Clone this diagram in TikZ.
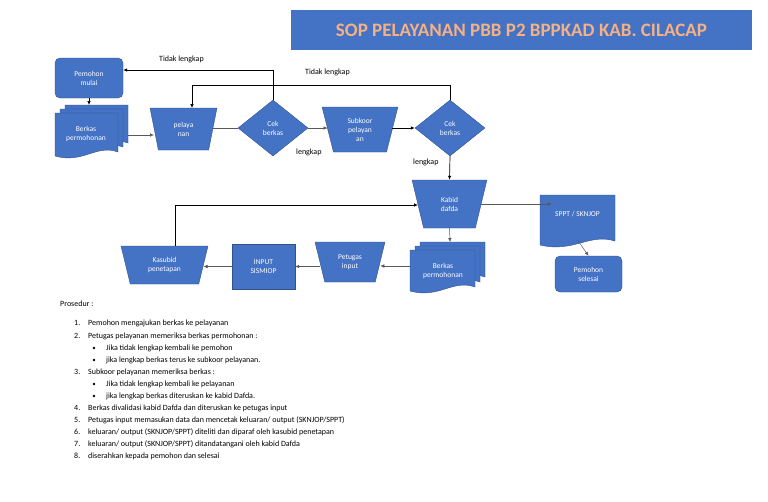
\documentclass[tikz,border=0pt]{standalone}
\usepackage{fontspec}
\setmainfont{Carlito}
\usetikzlibrary{shapes.geometric,arrows.meta}
\definecolor{bl}{HTML}{4472C4}
\definecolor{dbl}{HTML}{2F528F}
\definecolor{ttl}{HTML}{F4B183}
\newcommand\mydoc[4]{\fill[bl,draw=dbl,line width=0.4pt] (#1,#2) -- (#3,#2) -- (#3,#4-5) .. controls ({#3-0.35*(#3-#1)},{#4-13}) and ({#1+0.45*(#3-#1)},{#4+7}) .. (#1,#4-1) -- cycle;}
\begin{document}
\begin{tikzpicture}[x=1pt,y=-1pt,
  lbl/.style={font=\fontsize{7.5}{9}\selectfont,text=white,align=center},
  trap/.style={trapezium,shape border rotate=180,trapezium stretches=true,fill=bl,draw=dbl,line width=0.4pt,lbl,inner sep=0pt},
  dia/.style={diamond,aspect=1.25,fill=bl,draw=dbl,line width=0.4pt,lbl,inner sep=0pt},
  rbox/.style={rounded corners=5pt,fill=bl,draw=dbl,line width=0.4pt,lbl,inner sep=0pt},
  arr/.style={-{Latex[length=4pt,width=3.5pt]},line width=0.7pt},
  ln/.style={line width=0.5pt,gray!70!black},
  tx/.style={font=\fontsize{8}{9}\selectfont,anchor=west,inner sep=0pt}]
\useasboundingbox (0,0) rectangle (768,501);
\fill[white] (0,0) rectangle (768,501);
\node[fill=bl,minimum width=461,minimum height=40,inner sep=0pt,text=ttl,font=\fontsize{19}{20}\selectfont\bfseries] (title) at (521.5,30) {SOP PELAYANAN PBB P2 BPPKAD KAB. CILACAP};
% shapes
\node[rbox,minimum width=68,minimum height=40] (pm) at (89,78) {Pemohon\\mulai};
\mydoc{65}{105}{128}{148}\mydoc{60}{109}{123}{152}\mydoc{55}{113}{118}{157}
\node[lbl] (bk1) at (86,134) {Berkas\\permohonan};
\coordinate (bk1r) at (128,135);
\node[trap,trapezium angle=77,minimum width=67,minimum height=42] (pel) at (183.5,129) {pelaya\\nan};
\node[dia,minimum width=70,minimum height=56] (c1) at (273,128) {Cek\\berkas};
\node[trap,trapezium angle=77,minimum width=76,minimum height=45] (sub) at (360,129.5) {Subkoor\\pelayan\\an};
\node[dia,minimum width=70,minimum height=56] (c2) at (450,128) {Cek\\berkas};
\node[trap,trapezium angle=75,minimum width=75,minimum height=48] (kab) at (449.5,204) {Kabid\\dafda};
\mydoc{540}{195}{615}{246}
\node[lbl] (sppt) at (577.5,214) {SPPT / SKNJOP};
\node[rbox,minimum width=67,minimum height=36] (ps) at (588.5,274) {Pemohon\\selesai};
\mydoc{420}{242}{485}{282}\mydoc{415}{246}{480}{287}\mydoc{410}{250}{475}{292}
\node[lbl] (bk2) at (443,271) {Berkas\\permohonan};
\coordinate (bk2t) at (450,242); \coordinate (bk2l) at (410,266);
\node[trap,trapezium angle=73,minimum width=70,minimum height=40] (pet) at (350,262) {Petugas\\input};
\node[fill=bl,draw=dbl,line width=0.4pt,lbl,inner sep=0pt,minimum width=63,minimum height=45] (inp) at (263.5,266.5) {INPUT\\SISMIOP};
\node[trap,trapezium angle=74,minimum width=87,minimum height=38] (kas) at (164.5,265) {Kasubid\\penetapan};
% connectors
\draw[arr] (pm.south) -- (89,105);
\draw[arr,ln] (bk1r) -- (pel.west|-bk1r);
\draw[ln] (pel.east|-c1) -- (c1.west);
\draw[arr,ln] (c1.east) -- (sub.west|-c1);
\draw[arr] (sub.east|-c2) -- (c2.west);
\draw[arr] (c1.north) |- (pm.east|-0,70);
\draw[arr] (c2.north) |- (192,85) -- (192,108);
\draw[arr] (c2.south) -- (kab.north);
\draw[arr,ln] (kab.east) -- (sppt.west|-kab.east);
\draw[arr,ln] (577.5,240) -- (ps.north);
\draw[arr,ln] (kab.south) -- (bk2t);
\draw[arr,ln] (bk2l) -- (pet.east|-bk2l);
\draw[arr,ln] (pet.west|-inp) -- (inp.east);
\draw[arr,ln] (inp.west) -- (kas.east|-inp);
\draw[arr] (175,246) |- (418,205);
\node[tx] (l1) at (159,59) {Tidak lengkap};
\node[tx] (l2) at (305,72) {Tidak lengkap};
\node[tx] (l3) at (296,152) {lengkap};
\node[tx] (l4) at (413,162) {lengkap};
% procedure
\node[tx] (pr) at (60,304) {Prosedur :};
\foreach \y/\n/\t in {323/1./{Pemohon mengajukan berkas ke pelayanan},
 336/2./{Petugas pelayanan memeriksa berkas permohonan :},
 372/3./{Subkoor pelayanan memeriksa berkas :},
 408/4./{Berkas divalidasi kabid Dafda dan diteruskan ke petugas input},
 420/5./{Petugas input memasukan data dan mencetak keluaran{/} output (SKNJOP{/}SPPT)},
 432/6./{keluaran{/} output (SKNJOP{/}SPPT) diteliti dan diparaf oleh kasubid penetapan},
 444/7./{keluaran{/} output (SKNJOP{/}SPPT) ditandatangani oleh kabid Dafda},
 456/8./{diserahkan kepada pemohon dan selesai}}
 {\node[tx] at (74,\y) {\n}; \node[tx] at (88,\y) {\t};}
\foreach \y/\t in {348/{Jika tidak lengkap kembali ke pemohon},
 360/{jika lengkap berkas terus ke subkoor pelayanan.},
 384/{Jika tidak lengkap kembali ke pelayanan},
 396/{jika lengkap berkas diteruskan ke kabid Dafda.}}
 {\fill (94,\y) circle (1.3); \node[tx] at (106,\y) {\t};}
\end{tikzpicture}
\end{document}
